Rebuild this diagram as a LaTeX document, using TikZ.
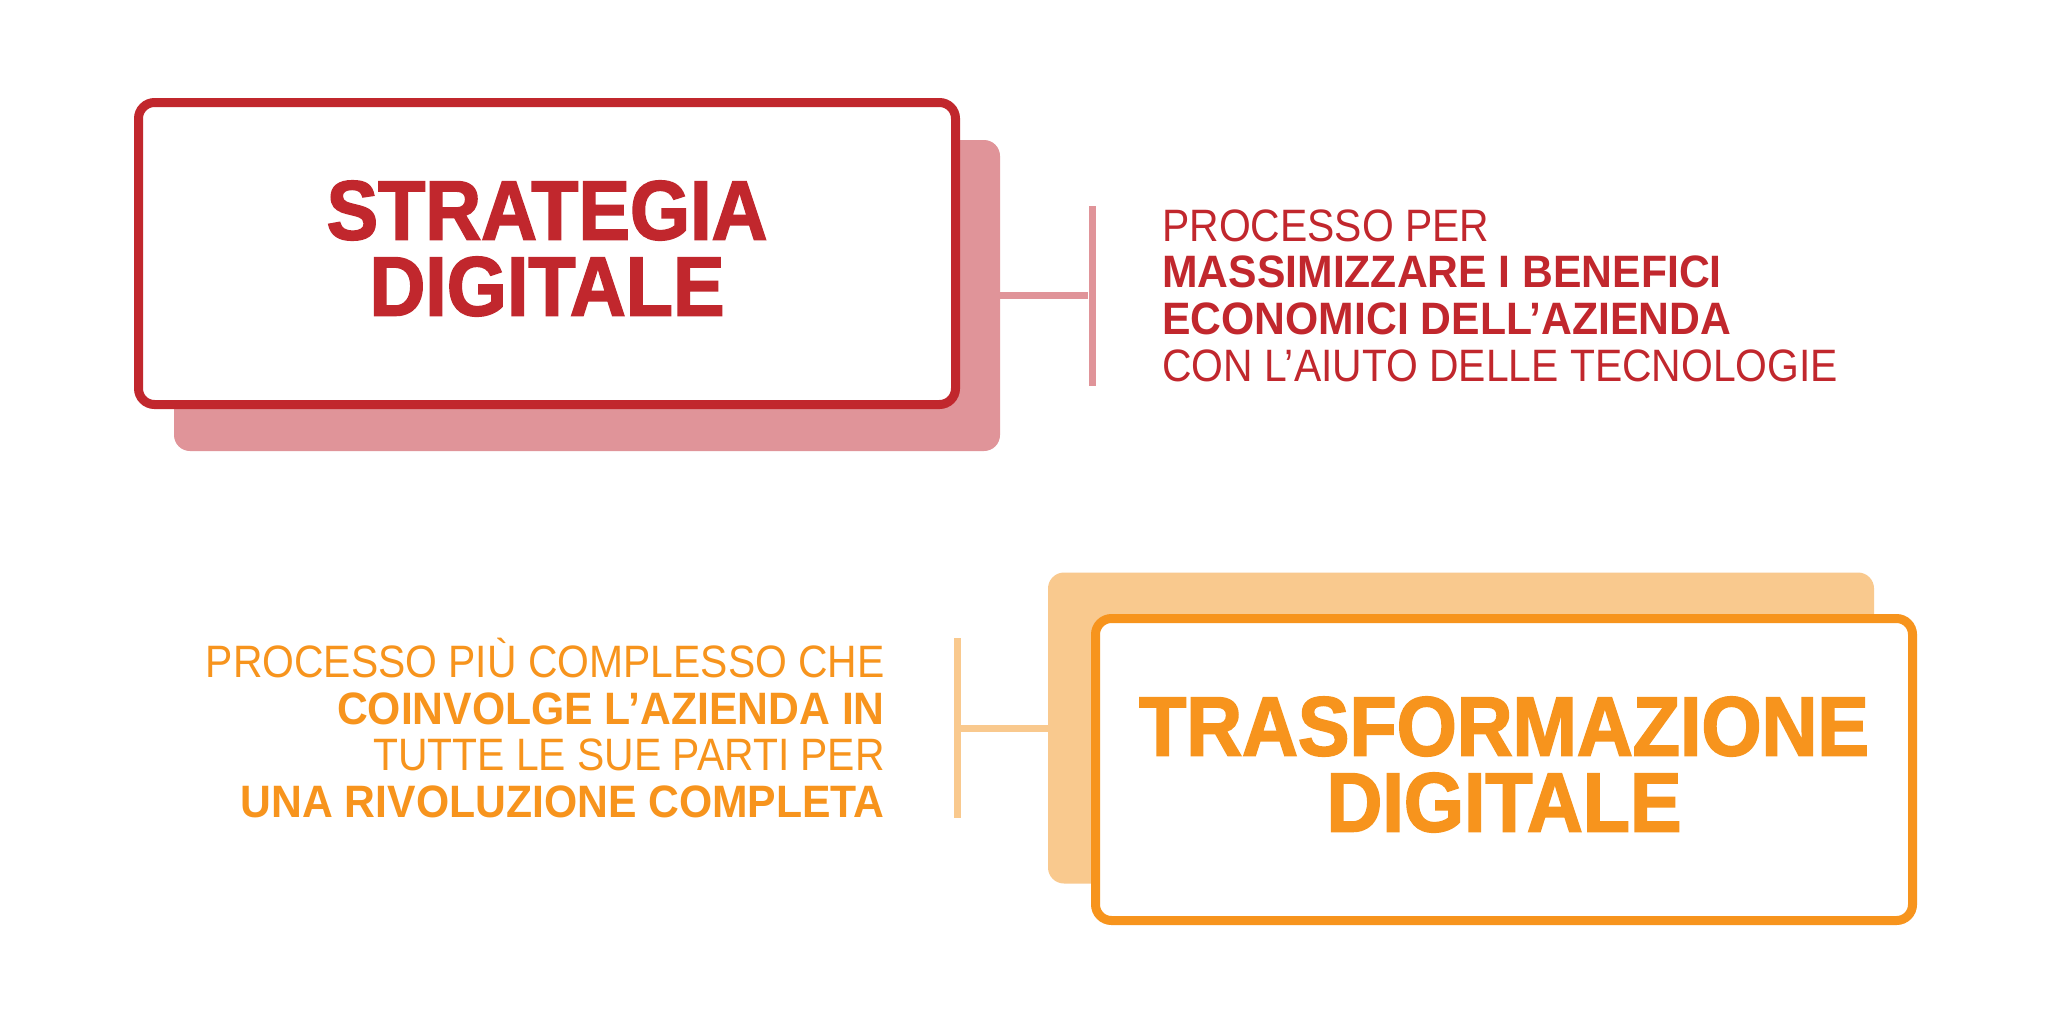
\documentclass[tikz,border=0pt]{standalone}
\usepackage{fontspec}
\setmainfont{Liberation Sans}
\newfontfamily\headfont{Liberation Sans}[FakeStretch=0.92,BoldFeatures={FakeBold=2}]
\newfontfamily\notefont{Liberation Sans}[FakeStretch=0.9,BoldFeatures={FakeStretch=0.94}]
\usetikzlibrary{positioning}

\definecolor{stratred}{HTML}{C1272D}
\definecolor{stratpink}{HTML}{E09499}
\definecolor{trasforange}{HTML}{F7941D}
\definecolor{traspeach}{HTML}{F9C98E}

\tikzset{
    titlebox/.style={draw=#1, line width=4.5pt, fill=white, rounded corners=8pt,
        minimum width=408.5pt, minimum height=151pt, inner sep=0pt},
    backbox/.style={fill=#1, rounded corners=8pt,
        minimum width=413pt, minimum height=155.5pt, inner sep=0pt},
    tickbar/.style={fill=#1, inner sep=0pt, minimum width=3.5pt, minimum height=90pt},
    link/.style={draw=#1, line width=3.5pt},
    titletext/.style={text=#1, align=center, inner sep=0pt, yshift=2.5pt,
        font=\headfont\bfseries\fontsize{42}{38}\selectfont},
    notetext/.style={text=#1, inner sep=0pt,
        font=\notefont\fontsize{22.7}{23.3}\selectfont}
}

\begin{document}
\begin{tikzpicture}[x=0.5pt, y=-0.5pt]
                    \path[use as bounding box, fill=white] (0,0) rectangle (2048,1024);

                    % Strategia digitale
                    \node[backbox=stratpink] (Back-S) at (587,295.5) {};
                    \node[titlebox=stratred] (Box-S) at (547,253.5) {};
                    \node[titletext=stratred] (Title-S) at (Box-S) {STRATEGIA\\DIGITALE};

                    % Bracket and note on the right
                    \node[tickbar=stratpink] (Bar-S) at (1092,295.5) {};
                    \draw[link=stratpink] (Back-S.east) -- (Bar-S.west);
                    \node[notetext=stratred, align=left, right=33pt of Bar-S] (Note-S)
                        {PROCESSO PER\\
                         \textbf{MASSIMIZZARE I BENEFICI}\\
                         \textbf{ECONOMICI DELL’AZIENDA}\\
                         CON L’AIUTO DELLE TECNOLOGIE};

                    % Trasformazione digitale
                    \node[backbox=traspeach] (Back-T) at (1461,728) {};
                    \node[titlebox=trasforange] (Box-T) at (1504,769.5) {};
                    \node[titletext=trasforange] (Title-T) at (Box-T) {TRASFORMAZIONE\\DIGITALE};

                    % Bracket and note on the left
                    \node[tickbar=traspeach] (Bar-T) at (957,728) {};
                    \draw[link=traspeach] (Bar-T.east) -- (Back-T.west);
                    \node[notetext=trasforange, align=right, left=34pt of Bar-T] (Note-T)
                        {PROCESSO PIÙ COMPLESSO CHE\\
                         \textbf{COINVOLGE L’AZIENDA IN}\\
                         TUTTE LE SUE PARTI PER\\
                         \textbf{UNA RIVOLUZIONE COMPLETA}};
                \end{tikzpicture}
\end{document}
